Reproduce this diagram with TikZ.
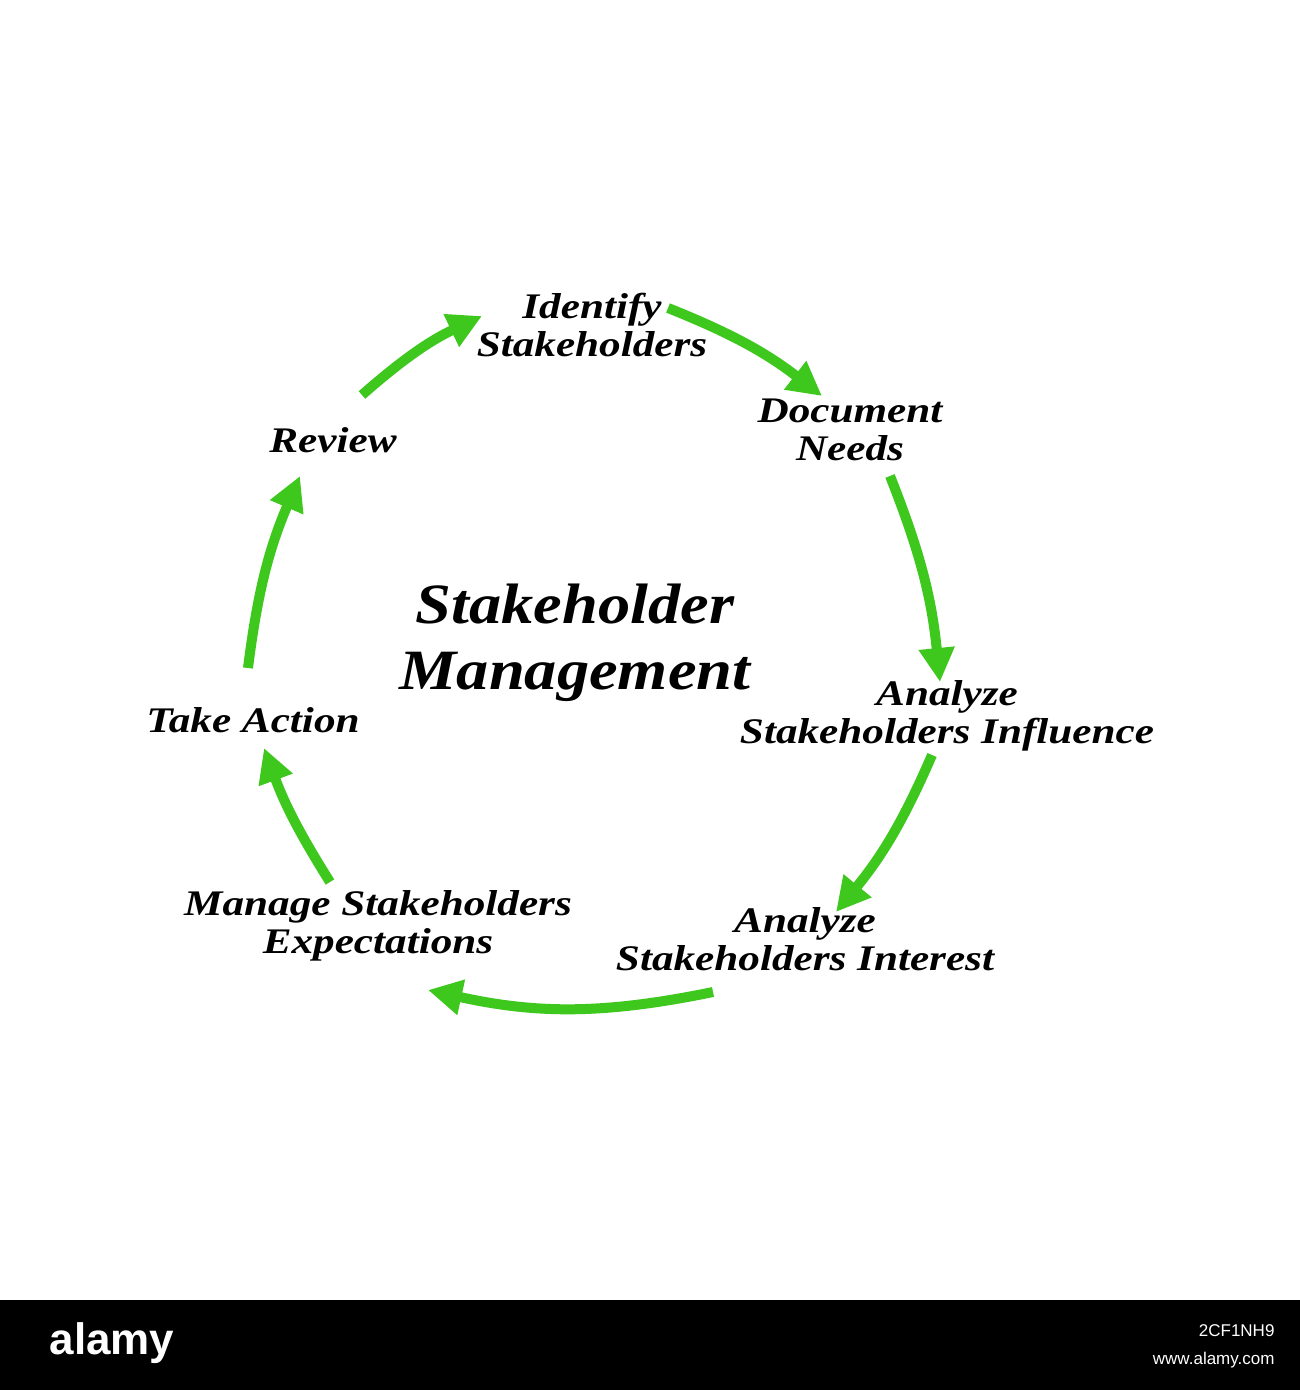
\documentclass[tikz,border=0pt]{standalone}
\usepackage{fontspec}
\setmainfont{Liberation Serif}
\newfontfamily\wsans{Liberation Sans}
\usetikzlibrary{arrows.meta}
\definecolor{agreen}{RGB}{62,200,30}
\begin{document}
\begin{tikzpicture}[x=1pt,y=-1pt,
  lbl/.style={font=\fontsize{36}{38}\selectfont\bfseries\itshape, align=center, inner sep=0pt, xscale=1.2},
  cyc/.style={agreen, line width=10pt, -{Triangle[length=34pt,width=34pt]}}]
\useasboundingbox (0,0) rectangle (1300,1390);
\fill[white] (0,0) rectangle (1300,1300);
\fill[black] (0,1300) rectangle (1300,1390);
\node[font=\wsans\bfseries\fontsize{44}{48}\selectfont, text=white] (wm) at (112,1343) {alamy};
\node[font=\wsans\fontsize{17}{20}\selectfont, text=white, anchor=east] (wid) at (1278,1331) {2CF1NH9};
\node[font=\wsans\fontsize{17}{20}\selectfont, text=white, anchor=east] (wurl) at (1278,1360) {www.alamy.com};

\node[font=\fontsize{57}{66}\selectfont\bfseries\itshape, align=center, xscale=1.13] (t) at (575,643) {Stakeholder\\Management};
\node[lbl] (n1) at (592,325) {Identify\\Stakeholders};
\node[lbl] (n2) at (850,430) {Document\\Needs};
\node[lbl] (n3) at (947,716) {Analyze\\Stakeholders Influence};
\node[lbl] (n4) at (805,939) {Analyze\\Stakeholders Interest};
\node[lbl] (n5) at (378,926) {Manage Stakeholders\\Expectations};
\node[lbl] (n6) at (253,720) {Take Action};
\node[lbl] (n7) at (333,440) {Review};

\coordinate (a1s) at (362,395); \coordinate (a1e) at (482,316);
\coordinate (a2s) at (668,308); \coordinate (a2e) at (822,396);
\coordinate (a3s) at (890,476); \coordinate (a3e) at (940,682);
\coordinate (a4s) at (932,755); \coordinate (a4e) at (836,912);
\coordinate (a5s) at (713,992); \coordinate (a5e) at (428,990);
\coordinate (a6s) at (330,882); \coordinate (a6e) at (264,748);
\coordinate (a7s) at (248,668); \coordinate (a7e) at (300,476);

\draw[cyc] (a1s) to[bend left=8] (a1e);
\draw[cyc] (a2s) to[bend left=8] (a2e);
\draw[cyc] (a3s) to[bend left=8] (a3e);
\draw[cyc] (a4s) to[bend left=8] (a4e);
\draw[cyc] (a5s) to[bend left=12] (a5e);
\draw[cyc] (a6s) to[bend left=6] (a6e);
\draw[cyc] (a7s) to[bend left=8] (a7e);
\end{tikzpicture}
\end{document}
